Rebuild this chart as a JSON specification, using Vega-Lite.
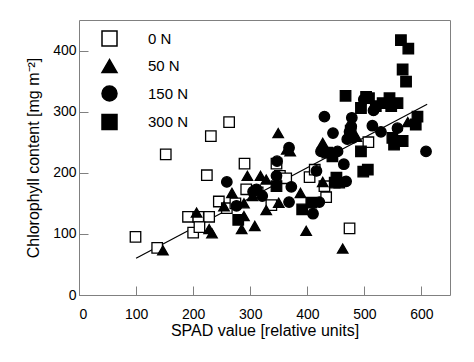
{
  "$schema": "https://vega.github.io/schema/vega-lite/v6.json",
  "width": 371,
  "height": 275,
  "autosize": "none",
  "padding": {"left": 79, "top": 20, "right": 24, "bottom": 67},
  "background": "white",
  "config": {
    "view": {"stroke": "#808080", "strokeWidth": 1},
    "font": "Liberation Sans",
    "axis": {
      "domain": false,
      "grid": false,
      "tickColor": "#808080",
      "tickSize": -9,
      "labelFont": "Liberation Sans",
      "labelFontSize": 14,
      "labelColor": "black",
      "titleFont": "Liberation Sans",
      "titleFontSize": 16,
      "titleFontWeight": "normal",
      "titleColor": "black"
    },
    "legend": {
      "orient": "none",
      "legendX": 22,
      "legendY": 10,
      "symbolSize": 225,
      "symbolStrokeWidth": 1.5,
      "labelFont": "Liberation Sans",
      "labelFontSize": 15,
      "labelColor": "black",
      "labelOffset": 30,
      "rowPadding": 7.5
    }
  },
  "datasets": {
    "pts": [
      {"spad": 263, "chl": 283, "n": "0 N"},
      {"spad": 231, "chl": 260, "n": "0 N"},
      {"spad": 152, "chl": 230, "n": "0 N"},
      {"spad": 290, "chl": 215, "n": "0 N"},
      {"spad": 346, "chl": 215, "n": "0 N"},
      {"spad": 224, "chl": 196, "n": "0 N"},
      {"spad": 99, "chl": 95, "n": "0 N"},
      {"spad": 137, "chl": 77, "n": "0 N"},
      {"spad": 191, "chl": 128, "n": "0 N"},
      {"spad": 209, "chl": 128, "n": "0 N"},
      {"spad": 228, "chl": 128, "n": "0 N"},
      {"spad": 200, "chl": 102, "n": "0 N"},
      {"spad": 211, "chl": 111, "n": "0 N"},
      {"spad": 245, "chl": 153, "n": "0 N"},
      {"spad": 259, "chl": 142, "n": "0 N"},
      {"spad": 274, "chl": 150, "n": "0 N"},
      {"spad": 293, "chl": 173, "n": "0 N"},
      {"spad": 313, "chl": 168, "n": "0 N"},
      {"spad": 337, "chl": 147, "n": "0 N"},
      {"spad": 352, "chl": 195, "n": "0 N"},
      {"spad": 363, "chl": 191, "n": "0 N"},
      {"spad": 404, "chl": 193, "n": "0 N"},
      {"spad": 413, "chl": 205, "n": "0 N"},
      {"spad": 430, "chl": 178, "n": "0 N"},
      {"spad": 433, "chl": 160, "n": "0 N"},
      {"spad": 474, "chl": 109, "n": "0 N"},
      {"spad": 507, "chl": 250, "n": "0 N"},
      {"spad": 147, "chl": 73, "n": "50 N"},
      {"spad": 206, "chl": 135, "n": "50 N"},
      {"spad": 228, "chl": 108, "n": "50 N"},
      {"spad": 233, "chl": 101, "n": "50 N"},
      {"spad": 254, "chl": 145, "n": "50 N"},
      {"spad": 268, "chl": 167, "n": "50 N"},
      {"spad": 295, "chl": 195, "n": "50 N"},
      {"spad": 318, "chl": 195, "n": "50 N"},
      {"spad": 328, "chl": 189, "n": "50 N"},
      {"spad": 285, "chl": 108, "n": "50 N"},
      {"spad": 289, "chl": 129, "n": "50 N"},
      {"spad": 308, "chl": 113, "n": "50 N"},
      {"spad": 304, "chl": 162, "n": "50 N"},
      {"spad": 328, "chl": 139, "n": "50 N"},
      {"spad": 289, "chl": 150, "n": "50 N"},
      {"spad": 350, "chl": 151, "n": "50 N"},
      {"spad": 388, "chl": 167, "n": "50 N"},
      {"spad": 398, "chl": 105, "n": "50 N"},
      {"spad": 349, "chl": 265, "n": "50 N"},
      {"spad": 364, "chl": 238, "n": "50 N"},
      {"spad": 370, "chl": 235, "n": "50 N"},
      {"spad": 427, "chl": 249, "n": "50 N"},
      {"spad": 427, "chl": 185, "n": "50 N"},
      {"spad": 462, "chl": 76, "n": "50 N"},
      {"spad": 576, "chl": 283, "n": "50 N"},
      {"spad": 486, "chl": 259, "n": "50 N"},
      {"spad": 259, "chl": 185, "n": "150 N"},
      {"spad": 311, "chl": 173, "n": "150 N"},
      {"spad": 321, "chl": 162, "n": "150 N"},
      {"spad": 305, "chl": 169, "n": "150 N"},
      {"spad": 347, "chl": 219, "n": "150 N"},
      {"spad": 346, "chl": 195, "n": "150 N"},
      {"spad": 276, "chl": 146, "n": "150 N"},
      {"spad": 372, "chl": 177, "n": "150 N"},
      {"spad": 368, "chl": 152, "n": "150 N"},
      {"spad": 410, "chl": 133, "n": "150 N"},
      {"spad": 421, "chl": 152, "n": "150 N"},
      {"spad": 416, "chl": 203, "n": "150 N"},
      {"spad": 464, "chl": 214, "n": "150 N"},
      {"spad": 468, "chl": 186, "n": "150 N"},
      {"spad": 608, "chl": 235, "n": "150 N"},
      {"spad": 430, "chl": 292, "n": "150 N"},
      {"spad": 445, "chl": 265, "n": "150 N"},
      {"spad": 478, "chl": 290, "n": "150 N"},
      {"spad": 477, "chl": 276, "n": "150 N"},
      {"spad": 474, "chl": 267, "n": "150 N"},
      {"spad": 470, "chl": 255, "n": "150 N"},
      {"spad": 480, "chl": 257, "n": "150 N"},
      {"spad": 424, "chl": 235, "n": "150 N"},
      {"spad": 453, "chl": 235, "n": "150 N"},
      {"spad": 368, "chl": 241, "n": "150 N"},
      {"spad": 499, "chl": 320, "n": "150 N"},
      {"spad": 516, "chl": 302, "n": "150 N"},
      {"spad": 514, "chl": 277, "n": "150 N"},
      {"spad": 529, "chl": 267, "n": "150 N"},
      {"spad": 558, "chl": 273, "n": "150 N"},
      {"spad": 279, "chl": 123, "n": "300 N"},
      {"spad": 391, "chl": 140, "n": "300 N"},
      {"spad": 407, "chl": 151, "n": "300 N"},
      {"spad": 435, "chl": 233, "n": "300 N"},
      {"spad": 444, "chl": 227, "n": "300 N"},
      {"spad": 494, "chl": 235, "n": "300 N"},
      {"spad": 506, "chl": 205, "n": "300 N"},
      {"spad": 498, "chl": 202, "n": "300 N"},
      {"spad": 451, "chl": 192, "n": "300 N"},
      {"spad": 448, "chl": 184, "n": "300 N"},
      {"spad": 456, "chl": 184, "n": "300 N"},
      {"spad": 564, "chl": 417, "n": "300 N"},
      {"spad": 577, "chl": 403, "n": "300 N"},
      {"spad": 567, "chl": 369, "n": "300 N"},
      {"spad": 573, "chl": 349, "n": "300 N"},
      {"spad": 467, "chl": 326, "n": "300 N"},
      {"spad": 503, "chl": 324, "n": "300 N"},
      {"spad": 508, "chl": 322, "n": "300 N"},
      {"spad": 494, "chl": 306, "n": "300 N"},
      {"spad": 520, "chl": 309, "n": "300 N"},
      {"spad": 532, "chl": 314, "n": "300 N"},
      {"spad": 544, "chl": 322, "n": "300 N"},
      {"spad": 547, "chl": 309, "n": "300 N"},
      {"spad": 558, "chl": 314, "n": "300 N"},
      {"spad": 593, "chl": 292, "n": "300 N"},
      {"spad": 590, "chl": 279, "n": "300 N"},
      {"spad": 549, "chl": 257, "n": "300 N"},
      {"spad": 552, "chl": 246, "n": "300 N"},
      {"spad": 567, "chl": 252, "n": "300 N"},
      {"spad": 476, "chl": 269, "n": "300 N"},
      {"spad": 346, "chl": 178, "n": "300 N"}
    ],
    "fit": [
      {"spad": 100, "chl": 60, "spad2": 610, "chl2": 312}
    ]
  },
  "layer": [
    {
      "data": {"name": "fit"},
      "mark": {"type": "rule", "color": "black", "strokeWidth": 1.2},
      "encoding": {
        "x": {"field": "spad", "type": "quantitative", "scale": {"domain": [0, 650], "nice": false},
          "axis": {"values": [0, 100, 200, 300, 400, 500, 600], "title": "SPAD value [relative units]", "labelPadding": 21, "titlePadding": 1}},
        "y": {"field": "chl", "type": "quantitative", "scale": {"domain": [0, 450], "nice": false},
          "axis": {"values": [0, 50, 100, 150, 200, 250, 300, 350, 400, 450], "labelExpr": "datum.value % 100 === 0 ? datum.label : ''", "title": "Chlorophyll content [mg m⁻²]", "labelPadding": 12, "titlePadding": 11}},
        "x2": {"field": "spad2"},
        "y2": {"field": "chl2"}
      }
    },
    {
      "data": {"name": "pts"},
      "mark": {"type": "point", "filled": true, "strokeWidth": 1.3, "opacity": 1, "size": 110},
      "encoding": {
        "x": {"field": "spad", "type": "quantitative"},
        "y": {"field": "chl", "type": "quantitative"},
        "shape": {"field": "n", "type": "nominal", "title": null,
          "scale": {"domain": ["0 N", "50 N", "150 N", "300 N"], "range": ["square", "triangle-up", "circle", "square"]}},
        "fill": {"field": "n", "type": "nominal", "title": null,
          "scale": {"domain": ["0 N", "50 N", "150 N", "300 N"], "range": ["white", "black", "black", "black"]}},
        "stroke": {"field": "n", "type": "nominal", "title": null,
          "scale": {"domain": ["0 N", "50 N", "150 N", "300 N"], "range": ["black", "black", "black", "black"]}}
      }
    }
  ]
}
